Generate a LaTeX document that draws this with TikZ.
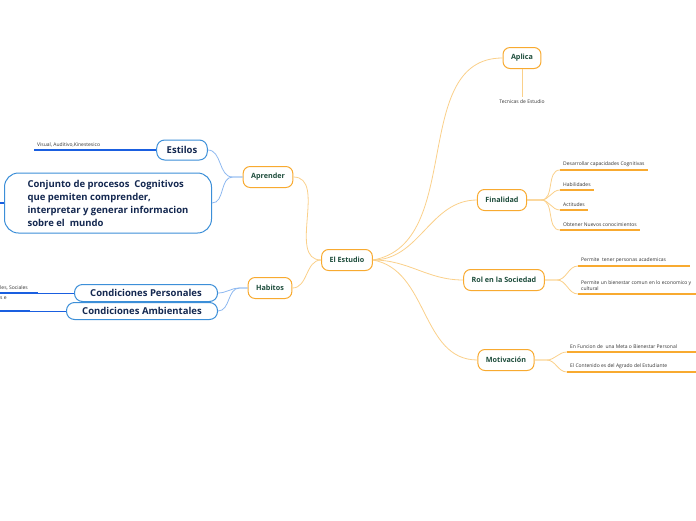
\documentclass[tikz,border=0pt]{standalone}
\usepackage{fontspec}
\setmainfont{Open Sans}
\definecolor{org}{HTML}{F8AA30}
\definecolor{orgL}{HTML}{FAD08A}
\definecolor{grn}{HTML}{1E4D3C}
\definecolor{blu}{HTML}{3C8FD8}
\definecolor{bluL}{HTML}{8DB8F0}
\definecolor{bluD}{HTML}{1A5FE0}
\definecolor{nav}{HTML}{142850}
\tikzset{
 onode/.style={draw=org,line width=1pt,rounded corners=7pt,fill=white,font=\fontsize{7.2}{8}\selectfont\bfseries,text=grn,minimum height=21pt,inner xsep=8pt},
 bnode/.style={draw=blu,line width=1pt,rounded corners=8pt,fill=white,font=\fontsize{9.5}{11}\selectfont\bfseries,text=nav,minimum height=17pt,inner ysep=1pt,inner xsep=10pt},
 ocon/.style={draw=orgL,line width=0.8pt},
 bcon/.style={draw=bluL,line width=0.8pt},
 leaf/.style={anchor=south west,inner xsep=3pt,inner ysep=3pt,font=\fontsize{5}{6.5}\selectfont,text=black!80},
 oline/.style={draw=org,line width=1.3pt},
 bline/.style={draw=bluD,line width=1.3pt},
}
\begin{document}
\begin{tikzpicture}[x=1pt,y=-1pt]
\useasboundingbox (0,0) rectangle (696,520);
\clip (0,0) rectangle (696,520);
% main
\node[onode] (est) at (347,260) {El Estudio};
\node[onode] (apl) at (522,58) {Aplica};
\node[onode] (fin) at (502,200) {Finalidad};
\node[onode] (rol) at (504,280) {Rol en la Sociedad};
\node[onode] (mot) at (506,360) {Motivación};
\node[onode] (apr) at (268,177) {Aprender};
\node[onode] (hab) at (270,288) {Habitos};
\foreach \n/\a/\b in {apl/10/180,fin/0/180,rol/0/180,mot/-10/180}
  \draw[ocon] (est.east) to[out=\a,in=\b] (\n.west);
\draw[ocon] (est.west) to[out=180,in=0] (apr.east);
\draw[ocon] (est.west) to[out=180,in=0] (hab.east);
% Aplica leaf
\node[font=\fontsize{5}{6}\selectfont,text=black!80] (tec) at (522,102) {Tecnicas de Estudio};
\draw[ocon] (apl.south) -- (tec.north);
% Finalidad leaves
\foreach \y/\t/\id in {170/Desarrollar capacidades Cognitivas/f1,190/Habilidades/f2,210/Actitudes/f3,230/Obtener Nuevos conocimientos/f4}{
  \coordinate (\id) at (560,\y);
  \node[leaf] (\id t) at (\id) {\t};
  \draw[oline] (\id) -- (\id t.south east);
  \draw[ocon] (fin.east) -- ++(14,0) to[out=0,in=180] (\id);
}
% Rol leaves
\coordinate (r1) at (578,266);
\node[leaf] (r1t) at (r1) {Permite\ \ tener personas academicas};
\draw[oline] (r1) -- ++(112,0);
\coordinate (r2) at (578,294);
\node[leaf,align=left] (r2t) at (r2) {Permite un bienestar comun en lo economico y\\cultural};
\draw[oline] (r2) -- ++(130,0);
\foreach \id in {r1,r2} \draw[ocon] (rol.east) -- ++(12,0) to[out=0,in=180] (\id);
% Motivacion leaves
\coordinate (m1) at (567,352);
\node[leaf] at (m1) {En Funcion de\ \ una Meta o Bienestar Personal};
\draw[oline] (m1) -- ++(140,0);
\coordinate (m2) at (567,372);
\node[leaf] at (m2) {El Contenido es del Agrado del Estudiante};
\draw[oline] (m2) -- ++(140,0);
\foreach \id in {m1,m2} \draw[ocon] (mot.east) -- ++(12,0) to[out=0,in=180] (\id);
% Aprender
\node[bnode,minimum height=20pt] (sti) at (182,150) {Estilos};
\node[bnode,align=left,rounded corners=14pt,minimum width=207pt,minimum height=60pt,inner xsep=14pt,font=\fontsize{9.5}{13}\selectfont\bfseries] (con) at (108,203)
 {Conjunto de procesos\ \ Cognitivos\\que pemiten comprender,\\interpretar y generar informacion\\sobre el\ \ mundo};
\draw[bcon] (apr.west) -- ++(-10,0) to[out=180,in=0] (sti.east);
\draw[bcon] (apr.west) -- ++(-10,0) to[out=180,in=0] (con.east);
\coordinate (s1) at (34,150);
\node[leaf] at (s1) {Visual, Auditivo,Kinestesico};
\draw[bline] (s1) -- (sti.west);
\draw[bline] (con.west) -- ++(-10,0);
% Habitos
\node[bnode,minimum width=143pt] (cp) at (146,293) {Condiciones Personales};
\node[bnode,minimum width=151pt] (ca) at (142,311) {Condiciones Ambientales};
\draw[bcon] (hab.west) -- ++(-8,0) to[out=180,in=0] (cp.east);
\draw[bcon] (hab.west) -- ++(-8,0) to[out=180,in=0] (ca.east);
\node[leaf,inner xsep=0pt] at (0,293) {les, Sociales};
\draw[bline] (0,293) -- (38,293);
\draw[draw=bluD,line width=0.8pt] (38,293) -- (cp.west);
\node[leaf,inner xsep=0pt] at (0,303) {s e};
\draw[bline] (0,311) -- (30,311);
\draw[draw=bluD,line width=0.8pt] (30,311) -- (ca.west);
\end{tikzpicture}
\end{document}
